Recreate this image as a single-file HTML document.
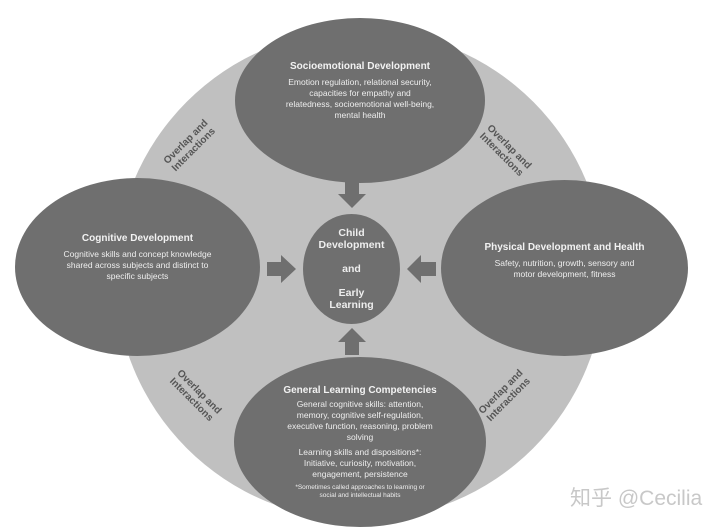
<!DOCTYPE html>
<html><head><meta charset="utf-8"><style>
body{margin:0;background:#fff;width:720px;height:530px;overflow:hidden;position:relative;font-family:"Liberation Sans","Noto Sans CJK SC",sans-serif}
.e{position:absolute;border-radius:50%;background:#6f6f6f;color:#eee;text-align:center;box-sizing:border-box;display:flex;flex-direction:column;justify-content:center;align-items:center}
.t{font-weight:bold;font-size:10px;margin-bottom:5px;color:#f2f2f2;white-space:nowrap}
.d{font-size:8.5px;line-height:11px}
.ov{position:absolute;font-weight:bold;font-size:10px;line-height:11px;color:#555;text-align:center;width:90px}
</style></head><body>
<div style="position:absolute;left:115px;top:30px;width:490px;height:490px;border-radius:50%;background:#c0c0c0"></div>
<div class="e" style="left:235px;top:18px;width:250px;height:165px;padding:0 50px 20px"><div class="t">Socioemotional Development</div><div class="d">Emotion regulation, relational security, capacities for empathy and relatedness, socioemotional well-being, mental health</div></div>
<div class="e" style="left:15px;top:178px;width:245px;height:178px;padding:0 40px 20px"><div class="t">Cognitive Development</div><div class="d">Cognitive skills and concept knowledge shared across subjects and distinct to specific subjects</div></div>
<div class="e" style="left:441px;top:180px;width:247px;height:176px;padding:0 45px 15px"><div class="t">Physical Development and Health</div><div class="d">Safety, nutrition, growth, sensory and motor development, fitness</div></div>
<div class="e" style="left:234px;top:357px;width:252px;height:170px;padding:0 50px"><div class="t" style="margin-bottom:3px">General Learning Competencies</div><div class="d">General cognitive skills: attention, memory, cognitive self-regulation, executive function, reasoning, problem solving</div><div class="d" style="margin-top:4px">Learning skills and dispositions*: Initiative, curiosity, motivation, engagement, persistence</div><div style="font-size:6.5px;line-height:8px;margin-top:4px;white-space:nowrap">*Sometimes called approaches to learning or<br>social and intellectual habits</div></div>
<div class="e" style="left:303px;top:214px;width:97px;height:110px;font-weight:bold;font-size:10.5px;line-height:12px"><div>Child<br>Development<br><br>and<br><br>Early<br>Learning</div></div>
<svg width="720" height="530" style="position:absolute;left:0;top:0">
<g fill="#6f6f6f">
<polygon points="345,180 359,180 359,194 366,194 352,208 338,194 345,194"/>
<polygon points="345,355 359,355 359,342 366,342 352,328 338,342 345,342"/>
<polygon points="267,262 281,262 281,255 296,269 281,283 281,276 267,276"/>
<polygon points="436,262 421,262 421,255 407,269 421,283 421,276 436,276"/>
</g></svg>
<div class="ov" style="left:145px;top:135px;transform:rotate(-45deg)">Overlap and<br>Interactions</div>
<div class="ov" style="left:460px;top:140px;transform:rotate(45deg)">Overlap and<br>Interactions</div>
<div class="ov" style="left:150px;top:385px;transform:rotate(45deg)">Overlap and<br>Interactions</div>
<div class="ov" style="left:460px;top:385px;transform:rotate(-45deg)">Overlap and<br>Interactions</div>
<div style="position:absolute;left:570px;top:482px;font-size:21px;color:#c8c8c8">知乎 @Cecilia</div>
</body></html>
